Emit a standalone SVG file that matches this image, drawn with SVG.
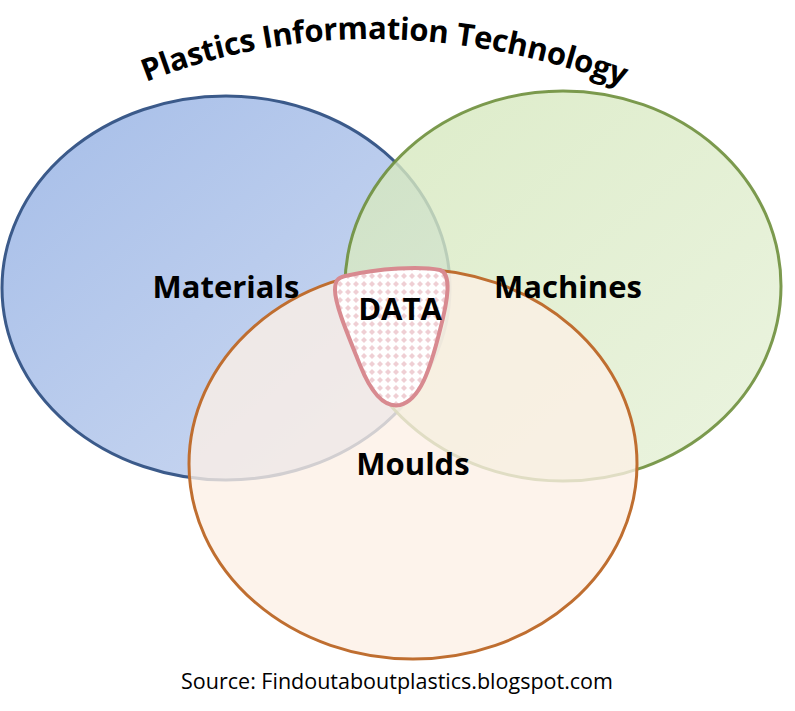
<svg xmlns="http://www.w3.org/2000/svg" width="795" height="711" viewBox="0 0 795 711">
<style>
.lbl{font-family:"Open Sans","Liberation Sans",sans-serif;font-weight:bold;font-size:31px;fill:#000;text-anchor:middle}
</style>
<defs>
<linearGradient id="gb" x1="0" y1="0" x2="1" y2="1"><stop offset="0" stop-color="#a5bde8"/><stop offset="1" stop-color="#cfdbf2"/></linearGradient>
<linearGradient id="gg" x1="0" y1="0" x2="1" y2="1"><stop offset="0" stop-color="#d4e7bb"/><stop offset="1" stop-color="#e6f1d8"/></linearGradient>
<pattern id="pd" width="8" height="8" patternUnits="userSpaceOnUse"><rect width="8" height="8" fill="#fff"/><path d="M4 1 L7 4 L4 7 L1 4Z" fill="#efcfd4"/></pattern>
<path id="arc" d="M146,82 Q385,-12 660,100"/>
</defs>
<rect width="795" height="711" fill="#fff"/>
<g id="materials"><ellipse cx="226" cy="288" rx="224" ry="192" fill="url(#gb)" stroke="#3b5a8a" stroke-width="3"/></g>
<g id="machines"><ellipse cx="563" cy="286" rx="218" ry="195" fill="url(#gg)" fill-opacity="0.8" stroke="#6e8f3c" stroke-width="3" stroke-opacity="0.9"/></g>
<g id="moulds"><ellipse cx="413" cy="464" rx="224" ry="195" fill="#fdf0e6" fill-opacity="0.78" stroke="#bf6e30" stroke-width="3"/></g>
<g id="data"><path d="M345,276 C380,268 420,266 440,270 C452,274 448,300 440,330 C430,370 420,400 400,405 C385,408 372,395 360,365 C348,335 335,305 335,290 C335,280 338,278 345,276Z" fill="url(#pd)" stroke="#d88a90" stroke-width="4"/></g>
<text class="lbl" x="226" y="298">Materials</text>
<text class="lbl" x="568" y="298">Machines</text>
<text class="lbl" x="413" y="475">Moulds</text>
<text class="lbl" x="400" y="320">DATA</text>
<text font-family="Open Sans,Liberation Sans,sans-serif" font-weight="bold" font-size="31" letter-spacing="-0.3" fill="#000"><textPath href="#arc">Plastics Information Technology</textPath></text>
<text x="397" y="689" font-family="Open Sans,Liberation Sans,sans-serif" font-size="21.5" text-anchor="middle" fill="#000">Source: Findoutaboutplastics.blogspot.com</text>
</svg>
